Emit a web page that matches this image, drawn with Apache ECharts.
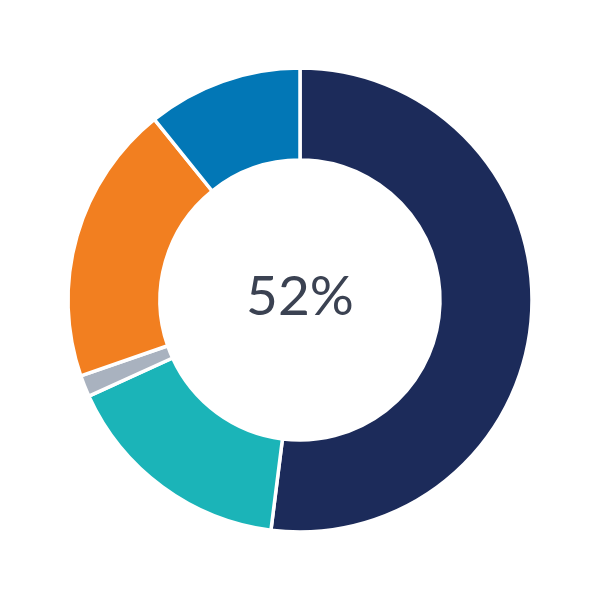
<!DOCTYPE html>
<html><head><meta charset="utf-8">
<script src="https://cdn.jsdelivr.net/npm/echarts@6/dist/echarts.min.js"></script>
<style>html,body{margin:0;padding:0;background:#fff}#c{width:600px;height:600px}</style>
</head><body><div id="c"></div>
<script>
const categories = ['A', 'B', 'C', 'D', 'E'];
const values = [52, 16.2, 1.5, 19.5, 10.8];
const colors = ['#1c2b5a', '#1bb4b8', '#a9b2bf', '#f27f20', '#0277b6'];
const centerLabel = '52%';

const chart = echarts.init(document.getElementById('c'));
chart.setOption({
  animation: false,
  graphic: [{
    type: 'text', left: 'center', top: 270,
    style: { text: centerLabel, font: '400 55px Lato', fill: '#3b4252' }
  }],
  series: [{
    type: 'pie',
    center: [300, 300],
    radius: [140, 232],
    startAngle: 90,
    clockwise: true,
    label: { show: false },
    labelLine: { show: false },
    itemStyle: { borderColor: '#fff', borderWidth: 3.5 },
    data: categories.map((c, i) => ({ name: c, value: values[i], itemStyle: { color: colors[i] } }))
  }]
});
</script></body></html>
